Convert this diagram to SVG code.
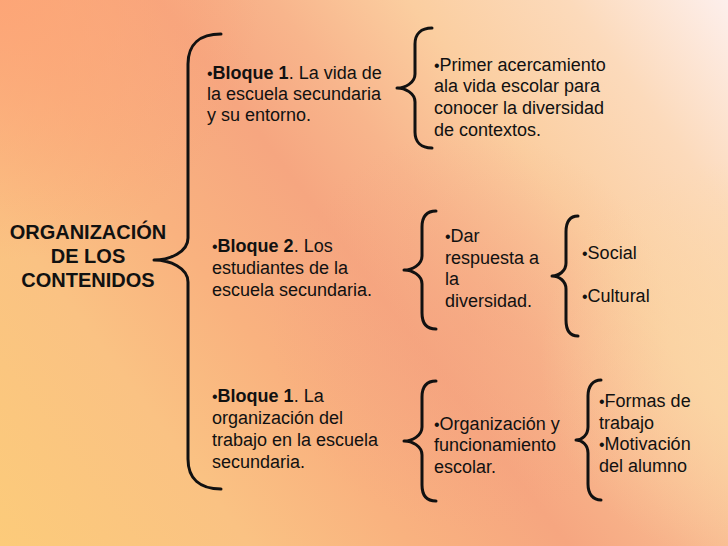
<svg xmlns="http://www.w3.org/2000/svg" width="728" height="546" viewBox="0 0 728 546">
  <defs>
    <linearGradient id="base" x1="0" y1="546" x2="728" y2="0" gradientUnits="userSpaceOnUse">
      <stop offset="0" stop-color="#FCCB7A"/>
      <stop offset="0.22" stop-color="#FAC283"/>
      <stop offset="0.36" stop-color="#F9B27F"/>
      <stop offset="0.5" stop-color="#F6A680"/>
      <stop offset="0.6" stop-color="#F8B58C"/>
      <stop offset="0.72" stop-color="#FBCEA0"/>
      <stop offset="0.86" stop-color="#FCDABB"/>
      <stop offset="1" stop-color="#FDEFEC"/>
    </linearGradient>
    <radialGradient id="tl" cx="0" cy="0" r="260" gradientUnits="userSpaceOnUse">
      <stop offset="0" stop-color="#FDA476" stop-opacity="0.9"/>
      <stop offset="1" stop-color="#FDA476" stop-opacity="0"/>
    </radialGradient>
    <radialGradient id="mid" cx="470" cy="330" r="200" gradientUnits="userSpaceOnUse">
      <stop offset="0" stop-color="#F4A27F" stop-opacity="0.45"/>
      <stop offset="1" stop-color="#F4A27F" stop-opacity="0"/>
    </radialGradient>
    <radialGradient id="rt" cx="740" cy="360" r="200" gradientUnits="userSpaceOnUse">
      <stop offset="0" stop-color="#FBD8A6" stop-opacity="0.8"/>
      <stop offset="1" stop-color="#FBD8A6" stop-opacity="0"/>
    </radialGradient>
    <style>
      .t { font-family: "Liberation Sans", Arial, sans-serif; font-size: 18px; fill: #111; }
      .h { font-family: "Liberation Sans", Arial, sans-serif; font-size: 20px; font-weight: bold; fill: #111; text-anchor: middle; }
      .b { font-weight: bold; }
      .d { font-size: 16px; }
      .br { fill: none; stroke: #111; stroke-width: 3; stroke-linecap: round; stroke-linejoin: round; }
    </style>
  </defs>

  <g id="background">
    <rect width="728" height="546" fill="url(#base)"/>
    <rect width="728" height="546" fill="url(#tl)"/>
    <rect width="728" height="546" fill="url(#mid)"/>
    <rect width="728" height="546" fill="url(#rt)"/>
  </g>

  <g id="connectors">
    <path class="br" d="M221,34 C200,34 188,44 188,64 L188,238 C188,252 170,260 154,260 C170,260 188,268 188,282 L188,459 C188,479 200,489 221,489"/>
    <path class="br" d="M432,28 C421,28 415,34 415,44 L415,74 C415,83 405,88 397,88 C405,88 415,93 415,102 L415,132 C415,142 421,148 432,148"/>
    <path class="br" d="M436,211 C426,211 422,217 422,227 L422,256 C422,265 412,270 404,270 C412,270 422,275 422,284 L422,313 C422,323 426,329 436,329"/>
    <path class="br" d="M578,216 C570,216 566,222 566,232 L566,263 C566,271 559,276 552,276 C559,276 566,281 566,289 L566,320 C566,330 570,336 578,336"/>
    <path class="br" d="M436,381 C426,381 422,387 422,397 L422,427 C422,436 412,441 404,441 C412,441 422,446 422,455 L422,485 C422,495 426,501 436,501"/>
    <path class="br" d="M601,380 C593,380 588,386 588,396 L588,427 C588,435 582,440 576,440 C582,440 588,445 588,453 L588,484 C588,494 593,500 601,500"/>
  </g>

  <g id="root">
    <text class="h"><tspan x="88" y="239">ORGANIZACIÓN</tspan><tspan x="88" y="263">DE LOS</tspan><tspan x="88" y="287">CONTENIDOS</tspan></text>
  </g>

  <g id="bloque1">
    <text class="t"><tspan x="207" y="79"><tspan class="d">•</tspan><tspan class="b">Bloque 1</tspan>. La vida de</tspan><tspan x="207" y="100">la escuela secundaria</tspan><tspan x="207" y="121">y su entorno.</tspan></text>
  </g>

  <g id="bloque2">
    <text class="t"><tspan x="212" y="252"><tspan class="d">•</tspan><tspan class="b">Bloque 2</tspan>. Los</tspan><tspan x="212" y="274">estudiantes de la</tspan><tspan x="212" y="296">escuela secundaria.</tspan></text>
  </g>

  <g id="bloque3">
    <text class="t"><tspan x="212" y="402"><tspan class="d">•</tspan><tspan class="b">Bloque 1</tspan>. La</tspan><tspan x="212" y="424">organización del</tspan><tspan x="212" y="446">trabajo en la escuela</tspan><tspan x="212" y="468">secundaria.</tspan></text>
  </g>

  <g id="primer">
    <text class="t"><tspan x="434" y="71"><tspan class="d">•</tspan>Primer acercamiento</tspan><tspan x="434" y="92">ala vida escolar para</tspan><tspan x="434" y="114">conocer la diversidad</tspan><tspan x="434" y="136">de contextos.</tspan></text>
  </g>

  <g id="dar">
    <text class="t"><tspan x="445" y="242"><tspan class="d">•</tspan>Dar</tspan><tspan x="445" y="264">respuesta a</tspan><tspan x="445" y="285">la</tspan><tspan x="445" y="307">diversidad.</tspan></text>
  </g>

  <g id="social">
    <text class="t" x="582" y="259"><tspan class="d">•</tspan>Social</text>
  </g>

  <g id="cultural">
    <text class="t" x="582" y="302"><tspan class="d">•</tspan>Cultural</text>
  </g>

  <g id="organizacion">
    <text class="t"><tspan x="434" y="430"><tspan class="d">•</tspan>Organización y</tspan><tspan x="434" y="451">funcionamiento</tspan><tspan x="434" y="473">escolar.</tspan></text>
  </g>

  <g id="formas">
    <text class="t"><tspan x="599" y="407"><tspan class="d">•</tspan>Formas de</tspan><tspan x="599" y="429">trabajo</tspan><tspan x="599" y="450"><tspan class="d">•</tspan>Motivación</tspan><tspan x="599" y="472">del alumno</tspan></text>
  </g>
</svg>
